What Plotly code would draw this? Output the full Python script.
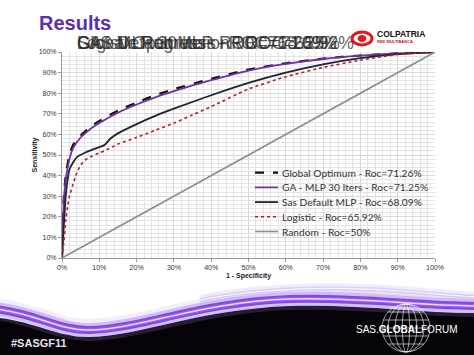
import plotly.graph_objects as go

# ---------------- data ----------------
fpr_global = [0, 0.3, 0.5, 1, 2, 3, 5, 7.5, 10, 15, 20, 25, 30, 40, 50, 60, 70, 80, 90, 100]
tpr_global = [0, 22, 30, 40, 50, 55, 59.5, 63.5, 66.5, 71.5, 75.5, 79, 82, 87, 91.5, 94.5, 96.8, 98.3, 99.3, 100]

fpr_ga = [0, 0.3, 0.5, 1, 2, 3, 5, 7.5, 10, 15, 20, 25, 30, 40, 50, 60, 70, 80, 90, 100]
tpr_ga = [0, 20, 28, 38, 48, 53.5, 58.5, 62.5, 65.5, 70.5, 74.5, 78, 81, 86.3, 91, 94.2, 96.6, 98.2, 99.3, 100]

fpr_sas = [0, 0.3, 0.7, 1, 1.5, 2, 3, 4, 6, 8, 10, 11.5, 13, 15, 20, 25, 30, 40, 50, 60, 70, 80, 90, 100]
tpr_sas = [0, 10, 22, 30, 38, 43, 46.5, 49, 51, 52.5, 53.8, 55, 58, 60.5, 65, 69, 72.5, 79, 85, 90, 94, 97, 99, 100]

fpr_log = [0, 0.5, 1, 1.5, 2, 3, 4, 5, 6, 8, 10, 12, 15, 20, 25, 30, 35, 40, 50, 60, 70, 80, 90, 100]
tpr_log = [0, 8, 18, 25, 30, 36, 41.5, 45, 47.3, 49.5, 51, 52.5, 55.3, 58.5, 62, 65.5, 69.5, 73.5, 82, 88, 92.5, 96, 98.8, 100]

fpr_rand = [0, 100]
tpr_rand = [0, 100]

names = ["Global Optimum - Roc=71.26%", "GA - MLP 30 Iters - Roc=71.25%",
         "Sas Default MLP - Roc=68.09%", "Logistic - Roc=65.92%", "Random - Roc=50%"]
tick_vals = [0, 10, 20, 30, 40, 50, 60, 70, 80, 90, 100]
tick_text = [f"{v}%" for v in tick_vals]
title_overlap = ["SAS Default MLP - ROC=68.09%", "GA - MLP 30 Iters - ROC=71.25%",
                 "Global Optimum - ROC=71.26%", "Logistic Regression - ROC=65.92%"]

# ---------------- layout geometry ----------------
W, H = 474, 355
ML, MR, MT, MB = 62, 39, 52, 97
PW, PH = W - ML - MR, H - MT - MB


def px(x, y):
    return (x - ML) / PW, (H - MB - y) / PH


def P(x, y):
    a, b = px(x, y)
    return f"{a:.5f},{b:.5f}"


styles = [
    dict(color="#111111", width=2.2, dash="dash"),
    dict(color="#7030A0", width=1.8, dash="solid"),
    dict(color="#1C2333", width=1.8, dash="solid"),
    dict(color="#B22222", width=1.6, dash="dot"),
    dict(color="#8C8C8C", width=1.6, dash="solid"),
]
series = [(fpr_global, tpr_global), (fpr_ga, tpr_ga), (fpr_sas, tpr_sas), (fpr_log, tpr_log), (fpr_rand, tpr_rand)]

fig = go.Figure()
for (xs, ys), nm, st in zip(series, names, styles):
    line = dict(st)
    if len(xs) > 2:
        line.update(shape="spline", smoothing=0.6)
    fig.add_trace(go.Scatter(x=[v / 100 for v in xs], y=[v / 100 for v in ys],
                             mode="lines", name=nm, line=line))

axis_common = dict(
    range=[0, 1], tickvals=[v / 100 for v in tick_vals], ticktext=tick_text,
    showgrid=True, gridcolor="#D9D9D9", gridwidth=1,
    minor=dict(dtick=0.02, showgrid=True, gridcolor="#E4E4E4", gridwidth=1),
    showline=True, linecolor="#9A9A9A", linewidth=1,
    ticks="outside", ticklen=3, tickcolor="#9A9A9A",
    tickfont=dict(family="Liberation Sans, Arial", size=7, color="#333333"),
    zeroline=False, fixedrange=True,
)

fig.update_layout(
    width=W, height=H,
    margin=dict(l=ML, r=MR, t=MT, b=MB, autoexpand=False),
    paper_bgcolor="white", plot_bgcolor="white",
    xaxis=dict(**axis_common, title=dict(text="<b>1 - Specificity</b>", font=dict(family="Liberation Sans, Arial", size=7, color="#222"), standoff=2)),
    yaxis=dict(**axis_common, title=dict(text="<b>Sensitivity</b>", font=dict(family="Liberation Sans, Arial", size=7, color="#222"), standoff=0)),
    showlegend=False,
)

shapes = []
annotations = []

# legend (drawn manually to match the compact row spacing)
for i, (nm, st) in enumerate(zip(names, styles)):
    yy = 172.7 + i * 14.7
    shapes.append(dict(type="line", xref="paper", yref="paper", x0=px(255, 0)[0], x1=px(278, 0)[0],
                       y0=px(0, yy)[1], y1=px(0, yy)[1],
                       line=dict(color=st["color"], width=st["width"], dash=st["dash"])))
    annotations.append(dict(xref="paper", yref="paper", x=px(280, 0)[0], y=px(0, yy)[1], xanchor="left", yanchor="middle",
                            text=nm, showarrow=False,
                            font=dict(family="Lato, Open Sans, sans-serif", size=10.2, color="#333333")))

# Title
annotations.append(dict(xref="paper", yref="paper", x=px(37, 0)[0], y=px(0, 23)[1], xanchor="left", yanchor="middle",
                        text="<b>Results</b>", showarrow=False,
                        font=dict(family="Liberation Sans, Arial", size=20, color="#5A30B0")))
# overlapping chart titles
for t in title_overlap:
    annotations.append(dict(xref="paper", yref="paper", x=px(75, 0)[0], y=px(0, 43)[1], xanchor="left", yanchor="middle",
                            text=t, showarrow=False,
                            font=dict(family="Liberation Sans, Arial", size=17.5, color="rgba(40,40,40,0.75)")))

# COLPATRIA logo
shapes.append(dict(type="circle", xref="paper", yref="paper", x0=px(352, 0)[0], x1=px(372, 0)[0], y0=px(0, 45)[1], y1=px(0, 32)[1],
                   line=dict(color="#E3161B", width=3), fillcolor="white"))
shapes.append(dict(type="circle", xref="paper", yref="paper", x0=px(358, 0)[0], x1=px(366, 0)[0], y0=px(0, 41.5)[1], y1=px(0, 35.5)[1],
                   line=dict(color="#E3161B", width=1), fillcolor="#E3161B"))
annotations.append(dict(xref="paper", yref="paper", x=px(375, 0)[0], y=px(0, 34.5)[1], xanchor="left", yanchor="middle",
                        text="<b>COLPATRIA</b>", showarrow=False,
                        font=dict(family="Liberation Sans, Arial", size=8.5, color="#111111")))
annotations.append(dict(xref="paper", yref="paper", x=px(375, 0)[0], y=px(0, 41)[1], xanchor="left", yanchor="middle",
                        text="<b>RED MULTIBANCA</b>", showarrow=False,
                        font=dict(family="Liberation Sans, Arial", size=4, color="#C0161B")))

# bottom band
black_path = (f"M{P(0,318)} C{P(35,322)} {P(60,338)} {P(90,337)} C{P(140,336)} {P(200,309)} {P(290,306)} "
              f"C{P(360,304)} {P(420,313)} {P(474,313)} L{P(474,356)} L{P(0,356)} Z")
shapes.append(dict(type="path", xref="paper", yref="paper", path=black_path, fillcolor="#050208", line=dict(width=0), layer="above"))

center = (f"M{P(-5,309)} C{P(35,313)} {P(60,331)} {P(90,330)} C{P(140,329)} {P(200,302)} {P(290,299)} "
          f"C{P(360,297)} {P(420,306)} {P(480,306)}")
for w, c in [(22, "rgba(190,160,240,0.18)"), (14, "rgba(150,100,235,0.35)"), (8, "rgba(115,55,215,0.85)"),
             (4, "rgba(150,90,245,1)"), (1.5, "rgba(245,230,255,0.9)")]:
    shapes.append(dict(type="path", xref="paper", yref="paper", path=center, line=dict(color=c, width=w), layer="above"))

upper = f"M{P(200,300)} C{P(260,288)} {P(330,286)} {P(400,291)} C{P(430,293)} {P(455,296)} {P(480,297)}"
for w, c in [(10, "rgba(200,180,245,0.25)"), (4, "rgba(200,180,250,0.5)"), (1.2, "rgba(255,255,255,0.8)")]:
    shapes.append(dict(type="path", xref="paper", yref="paper", path=upper, line=dict(color=c, width=w), layer="above"))

# globe
gx, gy, gr = 406, 328, 24
for rx in [gr, gr * 0.75, gr * 0.45, gr * 0.15]:
    shapes.append(dict(type="circle", xref="paper", yref="paper", x0=px(gx - rx, 0)[0], x1=px(gx + rx, 0)[0],
                       y0=px(0, gy + gr)[1], y1=px(0, gy - gr)[1], line=dict(color="rgba(255,255,255,0.75)", width=0.8), layer="above"))
for dy, half in [(-16, 17.9), (-8, 22.6), (0, 24), (8, 22.6), (16, 17.9)]:
    shapes.append(dict(type="line", xref="paper", yref="paper", x0=px(gx - half, 0)[0], x1=px(gx + half, 0)[0],
                       y0=px(0, gy + dy)[1], y1=px(0, gy + dy)[1], line=dict(color="rgba(255,255,255,0.75)", width=0.8), layer="above"))

annotations.append(dict(xref="paper", yref="paper", x=px(407, 0)[0], y=px(0, 329)[1], xanchor="center", yanchor="middle",
                        text="SAS.<b>GLOBAL</b>FORUM", showarrow=False,
                        font=dict(family="Liberation Sans, Arial", size=10, color="white")))
annotations.append(dict(xref="paper", yref="paper", x=px(9, 0)[0], y=px(0, 343)[1], xanchor="left", yanchor="middle",
                        text="<b>#SASGF11</b>", showarrow=False,
                        font=dict(family="Liberation Sans, Arial", size=11, color="#E8E0F0")))

fig.update_layout(shapes=shapes, annotations=annotations)
fig.write_html("out.html")
